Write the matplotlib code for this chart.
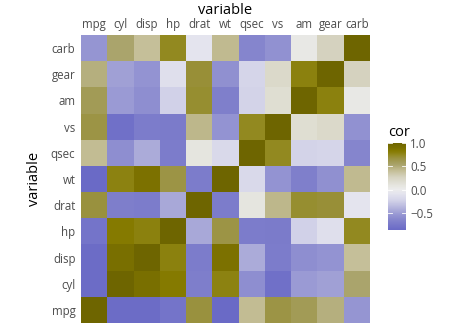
import matplotlib.pyplot as plt
import numpy as np
from matplotlib.colors import LinearSegmentedColormap, Normalize
from matplotlib import rcParams

rcParams['font.family'] = ['Open Sans', 'DejaVu Sans']

variables = ["mpg", "cyl", "disp", "hp", "drat", "wt", "qsec", "vs", "am", "gear", "carb"]

# correlation matrix of mtcars
mpg = [1.000, -0.852, -0.848, -0.776, 0.681, -0.868, 0.419, 0.664, 0.600, 0.480, -0.551]
cyl = [-0.852, 1.000, 0.902, 0.832, -0.700, 0.782, -0.591, -0.811, -0.523, -0.493, 0.527]
disp = [-0.848, 0.902, 1.000, 0.791, -0.710, 0.888, -0.434, -0.710, -0.591, -0.556, 0.395]
hp = [-0.776, 0.832, 0.791, 1.000, -0.449, 0.659, -0.708, -0.723, -0.243, -0.126, 0.750]
drat = [0.681, -0.700, -0.710, -0.449, 1.000, -0.712, 0.091, 0.440, 0.713, 0.700, -0.091]
wt = [-0.868, 0.782, 0.888, 0.659, -0.712, 1.000, -0.175, -0.555, -0.692, -0.583, 0.428]
qsec = [0.419, -0.591, -0.434, -0.708, 0.091, -0.175, 1.000, 0.745, -0.230, -0.213, -0.656]
vs = [0.664, -0.811, -0.710, -0.723, 0.440, -0.555, 0.745, 1.000, 0.168, 0.206, -0.570]
am = [0.600, -0.523, -0.591, -0.243, 0.713, -0.692, -0.230, 0.168, 1.000, 0.794, 0.058]
gear = [0.480, -0.493, -0.556, -0.126, 0.700, -0.583, -0.213, 0.206, 0.794, 1.000, 0.274]
carb = [-0.551, 0.527, 0.395, 0.750, -0.091, 0.428, -0.656, -0.570, 0.058, 0.274, 1.000]

cor = np.array([mpg, cyl, disp, hp, drat, wt, qsec, vs, am, gear, carb])

vmin, vmax = cor.min(), cor.max()
# blue -> white -> olive, white at zero
stops = [(-0.868, "#6a6ac6"), (-0.7, "#7e7ecb"), (-0.55, "#9595d2"), (-0.45, "#a8a8d8"),
         (-0.24, "#d2d2e8"), (-0.09, "#e4e4ee"), (0.0, "#ececec"), (0.06, "#e8e8e4"),
         (0.27, "#d6d3c0"), (0.42, "#c2bc93"), (0.53, "#aaa46c"), (0.68, "#9a9240"),
         (0.75, "#928920"), (0.83, "#857a00"), (0.9, "#7a7000"), (1.0, "#6e6500")]
cmap = LinearSegmentedColormap.from_list(
    "cor", [((v - vmin) / (vmax - vmin), c) for v, c in stops])
norm = Normalize(vmin, vmax)

fig = plt.figure(figsize=(4.74, 3.31), dpi=100)
ax = fig.add_axes([81/474, 8/331, 289/474, 288/331])
n = len(variables)
mesh = ax.pcolormesh(np.arange(n + 1), np.arange(n + 1), cor.T, cmap=cmap, norm=norm)
ax.set_xlim(0, n)
ax.set_ylim(0, n)
ax.set_xticks(np.arange(n) + 0.5)
ax.set_yticks(np.arange(n) + 0.5)
ax.set_xticklabels(variables)
ax.set_yticklabels(variables)
ax.xaxis.tick_top()
ax.xaxis.set_label_position("top")
ax.tick_params(length=0, labelsize=8.3, colors="#4d4d4d", pad=4)
ax.tick_params(axis="x", pad=3)
for s in ax.spines.values():
    s.set_visible(False)
ax.set_xlabel("variable", fontsize=10.5, labelpad=3)
ax.set_ylabel("variable", fontsize=10.5, labelpad=6)

cax = fig.add_axes([388/474, 101/331, 18/474, 87/331])
cb = fig.colorbar(mesh, cax=cax)
cb.outline.set_visible(False)
cb.set_ticks([-0.5, 0.0, 0.5, 1.0])
cb.ax.tick_params(length=0, labelsize=8.3, colors="#4d4d4d", pad=3)
for t in [-0.5, 0.0, 0.5, 1.0]:
    cax.plot([0, 0.2], [t, t], color="white", lw=0.6)
    cax.plot([0.8, 1], [t, t], color="white", lw=0.6)
cax.set_title("cor", fontsize=10.5, loc="left", pad=5)

plt.savefig("out.png", dpi=100)
